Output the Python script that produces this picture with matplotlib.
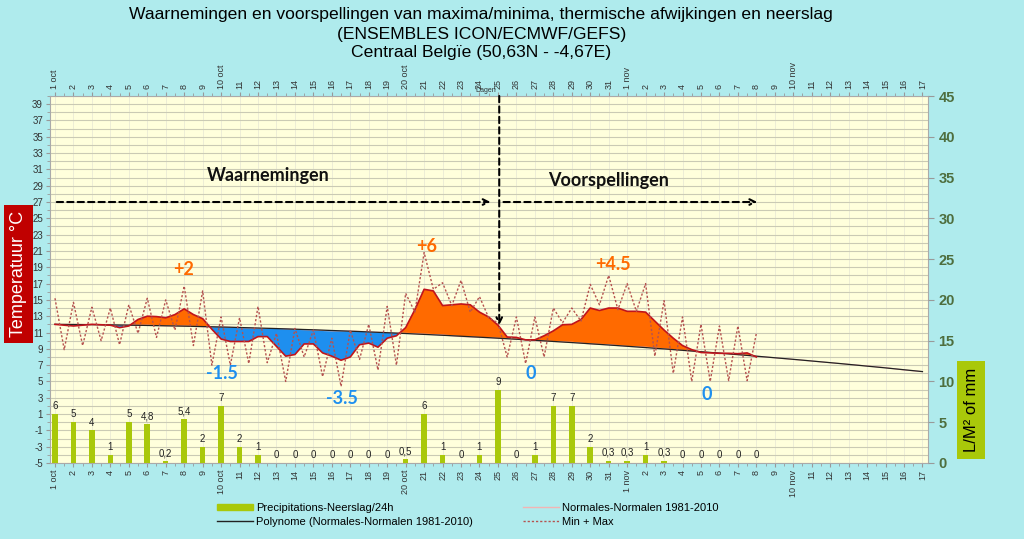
import matplotlib.pyplot as plt
import numpy as np
from matplotlib.ticker import MultipleLocator, FixedLocator
from matplotlib.lines import Line2D
from matplotlib.patches import Patch

plt.rcParams['font.family'] = ['Liberation Sans', 'DejaVu Sans']
plt.rcParams['axes.unicode_minus'] = False

# day index 0 = 1 oct ... 47 = 17 nov
days = np.arange(48)
day_labels = (['1 oct'] + [str(d) for d in range(2, 10)] + ['10 oct']
              + [str(d) for d in range(11, 20)] + ['20 oct']
              + [str(d) for d in range(21, 32)] + ['1 nov']
              + [str(d) for d in range(2, 10)] + ['10 nov']
              + [str(d) for d in range(11, 18)])

# normals 1981-2010 (deg C), one per day
normals = [12.0, 12.0, 12.0, 11.9, 11.9, 11.9, 11.8, 11.8, 11.7, 11.7,
           11.6, 11.5, 11.5, 11.4, 11.3, 11.2, 11.2, 11.1, 11.0, 10.9,
           10.8, 10.7, 10.5, 10.4, 10.3, 10.2, 10.0, 9.9, 9.8, 9.6,
           9.5, 9.3, 9.2, 9.0, 8.8, 8.6, 8.5, 8.3, 8.1, 7.9,
           7.7, 7.5, 7.3, 7.1, 6.9, 6.7, 6.4, 6.2]

# daily maxima (at day) and minima (at day + 0.5), obs + forecast
tmax = [15.2, 14.7, 14.1, 14.0, 14.4, 15.2, 15.0, 16.7, 16.1, 12.9,
        12.8, 14.2, 10.9, 11.5, 11.3, 10.3, 11.3, 12.0, 14.2, 15.8,
        20.8, 17.1, 17.4, 15.4, 12.2, 12.9, 12.9, 14.0, 14.0, 16.9,
        18.0, 17.0, 17.0, 14.9, 12.9, 12.0, 11.8, 11.8, 10.9]
tmin = [8.9, 9.4, 10.0, 9.5, 10.9, 10.4, 11.3, 9.4, 7.0, 7.0,
        7.2, 7.3, 5.0, 8.0, 5.6, 4.4, 7.7, 6.4, 7.0, 13.5,
        16.3, 14.3, 13.5, 12.8, 8.0, 7.2, 8.0, 12.2, 12.4, 14.4,
        13.8, 13.6, 8.1, 6.0, 5.0, 5.0, 5.1, 5.1]

# smoothed mean temperature, every half day from 1 oct to 8 nov
tmean = [12.0, 11.9, 11.8, 11.9, 12.0, 11.95, 11.9, 11.6, 11.8, 12.6,
         13.0, 12.95, 12.8, 13.2, 13.9, 13.2, 12.7, 11.4, 10.2, 9.9,
         9.9, 9.9, 10.5, 10.5, 9.3, 8.1, 8.3, 9.6, 9.6, 8.5,
         8.1, 7.6, 8.0, 9.5, 9.7, 9.2, 10.3, 10.6, 11.6, 13.8,
         16.3, 16.1, 14.3, 14.4, 14.5, 14.4, 13.5, 12.9, 11.9, 10.45,
         10.4, 10.1, 10.1, 10.6, 11.2, 11.95, 12.0, 12.6, 14.0, 13.7,
         14.0, 14.0, 13.6, 13.6, 13.5, 12.4, 11.3, 10.3, 9.4, 8.9,
         8.55, 8.5, 8.45, 8.45, 8.4, 8.5, 8.0]

# precipitation mm / 24h, 1 oct - 8 nov
precip = [6, 5, 4, 1, 5, 4.8, 0.2, 5.4, 2, 7,
          2, 1, 0, 0, 0, 0, 0, 0, 0, 0.5,
          6, 1, 0, 1, 9, 0, 1, 7, 7, 2,
          0.3, 0.3, 1, 0.3, 0, 0, 0, 0, 0]

anomalies = [('+2', 6.94, 18.7, 'pos'), ('-1.5', 9.05, 6.0, 'neg'),
             ('-3.5', 15.56, 2.85, 'neg'), ('+6', 20.16, 21.5, 'pos'),
             ('0', 25.75, 6.0, 'neg'), ('+4.5', 30.24, 19.4, 'pos'),
             ('0', 35.3, 3.45, 'neg')]

bg = '#AFEBED'
orange = '#FF6A00'
blue = '#1E8FEF'
green = '#A9C80A'

fig = plt.figure(figsize=(10.24, 5.39), dpi=100, facecolor=bg)
ax = fig.add_axes([50 / 1024, 76 / 539, 878 / 1024, 367 / 539])
ax.set_facecolor('#FFFFDC')
ax.set_xlim(-0.27, 47.3)
ax.set_ylim(-5, 40)

# grid
ax.yaxis.set_major_locator(FixedLocator(np.arange(-5, 40, 2)))
ax.yaxis.set_minor_locator(MultipleLocator(1))
ax.xaxis.set_major_locator(FixedLocator(days))
ax.xaxis.set_minor_locator(MultipleLocator(0.5))
ax.grid(axis='y', which='both', color='#CACAB4', lw=0.8, zorder=0)
ax.grid(axis='x', which='major', color='#EAEAD6', lw=0.6, zorder=0)
ax.set_axisbelow(True)

# fill anomalies against the polynomial of normals
t_half = np.arange(len(tmean)) * 0.5
tmean_a = np.array(tmean)
coef = np.polyfit(days, normals, 2)
poly_half = np.polyval(coef, t_half)
ax.fill_between(t_half, tmean_a, poly_half, where=tmean_a >= poly_half,
                interpolate=True, color=orange, lw=0, zorder=2)
ax.fill_between(t_half, tmean_a, poly_half, where=tmean_a <= poly_half,
                interpolate=True, color=blue, lw=0, zorder=2)

ax.plot(days, normals, color='#F2B4B4', lw=0.8, zorder=3)
xs = np.linspace(0, 47, 200)
ax.plot(xs, np.polyval(coef, xs), color='#222222', lw=0.9, zorder=4)
ax.plot(t_half, tmean, color='#C0141C', lw=1.2, zorder=5)

minmax = np.empty(len(tmax) + len(tmin))
minmax[0::2] = tmax
minmax[1::2] = tmin
ax.plot(np.arange(len(minmax)) * 0.5, minmax, color='#B5524F', lw=1.0,
        ls=(0, (1.6, 1.4)), zorder=6)

# arrows and headings
arrow = dict(arrowstyle='->', ls=(0, (3, 2)), lw=1.5, color='black',
             shrinkA=0, shrinkB=0, mutation_scale=10)
ax.annotate('', xy=(23.6, 27), xytext=(0.1, 27), arrowprops=arrow, zorder=7)
ax.annotate('', xy=(38.05, 27), xytext=(24.3, 27), arrowprops=arrow, zorder=7)
ax.annotate('', xy=(24.07, 11.9), xytext=(24.07, 40), arrowprops=arrow, zorder=7)
ax.text(11.55, 30.2, 'Waarnemingen', ha='center', va='center', fontsize=13,
        fontweight='bold', family='Lato', color='#111111')
ax.text(30.0, 29.6, 'Voorspellingen', ha='center', va='center', fontsize=13,
        fontweight='bold', family='Lato', color='#111111')
for txt, x, y, kind in anomalies:
    ax.text(x, y, txt, ha='center', va='center', fontsize=13, fontweight='bold',
            family='Lato', color=orange if kind == 'pos' else blue, zorder=8)

# axes ticks
ax.set_xticks(days)
ax.set_xticklabels(day_labels, rotation=90, fontsize=6.5, color='#333333')
ax.tick_params(axis='x', which='both', top=True, labeltop=True, length=3,
               color='#999999', pad=2)
ax.tick_params(axis='x', which='minor', length=2)
ax.tick_params(axis='y', which='major', labelsize=7, labelcolor='#333333',
               length=3, color='#999999', pad=2)
ax.tick_params(axis='y', which='minor', length=2, color='#999999')
for s in ax.spines.values():
    s.set_color('#AAAAAA')
    s.set_linewidth(0.8)

# precipitation on the right axis
ax2 = ax.twinx()
ax2.set_ylim(0, 45)
ax2.set_yticks(np.arange(0, 46, 5))
ax2.tick_params(axis='y', labelsize=10.5, labelcolor='#4E6E3E', color='#999999',
                length=4)
for lab in ax2.get_yticklabels():
    lab.set_fontweight('bold')
for s in ax2.spines.values():
    s.set_visible(False)
bars = ax2.bar(days[:len(precip)], precip, width=0.3, color=green, zorder=3)
ax2.bar_label(bars, labels=[f'{v:g}'.replace('.', ',') for v in precip],
              fontsize=7, color='#222222', padding=2)

# titles and axis boxes
fig.text(0.47, 1 - 15 / 539, 'Waarnemingen en voorspellingen van maxima/minima, '
         'thermische afwijkingen en neerslag', ha='center', va='center', fontsize=12.6)
fig.text(0.47, 1 - 34 / 539, '(ENSEMBLES ICON/ECMWF/GEFS)', ha='center',
         va='center', fontsize=12.6)
fig.text(0.47, 1 - 53 / 539, 'Centraal Belgïe (50,63N - -4,67E)', ha='center',
         va='center', fontsize=12.6)
fig.text(486 / 1024, 1 - 91 / 539, 'Dagen', ha='center', va='center',
         fontsize=5, color='#333333')
fig.text(18.5 / 1024, 1 - 274 / 539, 'Temperatuur °C', rotation=90, ha='center',
         va='center', fontsize=13, color='white',
         bbox=dict(boxstyle='square,pad=0.35', fc='#C00000', ec='none'))
fig.text(971 / 1024, 1 - 410 / 539, 'L/M² of mm', rotation=90, ha='center',
         va='center', fontsize=12, color='black',
         bbox=dict(boxstyle='square,pad=0.4', fc=green, ec='none'))

handles = [Patch(color=green),
           Line2D([], [], color='#222222', lw=1),
           Line2D([], [], color='#F2B4B4', lw=1),
           Line2D([], [], color='#B5524F', lw=1, ls=(0, (1.6, 1.4)))]
labels = ['Precipitations-Neerslag/24h', 'Polynome (Normales-Normalen 1981-2010)',
          'Normales-Normalen 1981-2010', 'Min + Max']
fig.legend(handles, labels, ncol=2, loc='center', bbox_to_anchor=(468 / 1024, 0.045),
           frameon=False, fontsize=8, handlelength=3.2, handleheight=0.5,
           handletextpad=0.3, columnspacing=4.5, labelspacing=0.35)

fig.savefig('out.png', dpi=100, facecolor=bg)
